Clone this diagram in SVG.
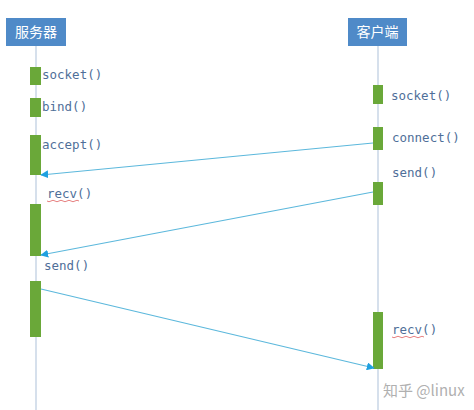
<svg xmlns="http://www.w3.org/2000/svg" width="474" height="410" viewBox="0 0 474 410">
<style>
.hdr{fill:#4f8ac8}
.ht{font-family:"Noto Sans CJK SC",sans-serif;font-size:14px;fill:#ffffff;text-anchor:middle}
.life{stroke:#c9d6e6;stroke-width:1.5;fill:none}
.bar{fill:#6aa839}
.lbl{font-family:"DejaVu Sans Mono",monospace;font-size:12.5px;fill:#4f6f99}
.msg{stroke:#5cb8dc;stroke-width:1.2;fill:none;marker-end:url(#ah)}
.sq{stroke:#e06060;stroke-width:0.8;fill:none}
.wm{font-family:"Noto Sans CJK SC",sans-serif;font-size:15px;fill:#b0b0b0}
</style>
<defs>
<marker id="ah" viewBox="0 0 10 10" refX="9" refY="5" markerWidth="8" markerHeight="8" orient="auto" markerUnits="userSpaceOnUse">
<path d="M0,0 L10,5 L0,10 z" fill="#1fa0e0"/>
</marker>
</defs>
<g id="server">
<line class="life" x1="36" y1="46" x2="36" y2="410"/>
<rect class="hdr" x="6" y="18" width="60" height="28"/>
<text class="ht" x="36" y="37">服务器</text>
</g>
<g id="client">
<line class="life" x1="378" y1="46" x2="378" y2="410"/>
<rect class="hdr" x="348" y="18" width="59" height="28"/>
<text class="ht" x="377.5" y="37">客户端</text>
</g>
<g id="s-socket"><rect class="bar" x="30" y="67" width="11" height="18"/><text class="lbl" x="42" y="79">socket()</text></g>
<g id="s-bind"><rect class="bar" x="30" y="98" width="11" height="19"/><text class="lbl" x="42" y="111">bind()</text></g>
<g id="s-accept"><rect class="bar" x="30" y="135" width="11" height="40"/><text class="lbl" x="42" y="149">accept()</text></g>
<g id="s-recv"><rect class="bar" x="30" y="204" width="11" height="52"/><text class="lbl" x="47" y="198">recv()</text><path class="sq" d="M47,201 q2,1.5 4,0 t4,0 t4,0 t4,0 t4,0 t4,0 t4,0 t4,0"/></g>
<g id="s-send"><rect class="bar" x="30" y="281" width="11" height="56"/><text class="lbl" x="44" y="270">send()</text></g>
<g id="c-socket"><rect class="bar" x="373" y="85" width="10" height="19"/><text class="lbl" x="391" y="100">socket()</text></g>
<g id="c-connect"><rect class="bar" x="373" y="127" width="10" height="23"/><text class="lbl" x="392" y="142">connect()</text></g>
<g id="c-send"><rect class="bar" x="373" y="182" width="10" height="23"/><text class="lbl" x="392" y="177">send()</text></g>
<g id="c-recv"><rect class="bar" x="373" y="312" width="10" height="57"/><text class="lbl" x="392" y="334">recv()</text><path class="sq" d="M392,337 q2,1.5 4,0 t4,0 t4,0 t4,0 t4,0 t4,0 t4,0 t4,0"/></g>
<g id="connectors">
<line class="msg" x1="373" y1="143" x2="41" y2="175"/>
<line class="msg" x1="373" y1="192" x2="41" y2="255"/>
<line class="msg" x1="41" y1="289" x2="374" y2="368"/>
</g>
<text class="wm" x="383" y="396">知乎 @linux</text>
</svg>
